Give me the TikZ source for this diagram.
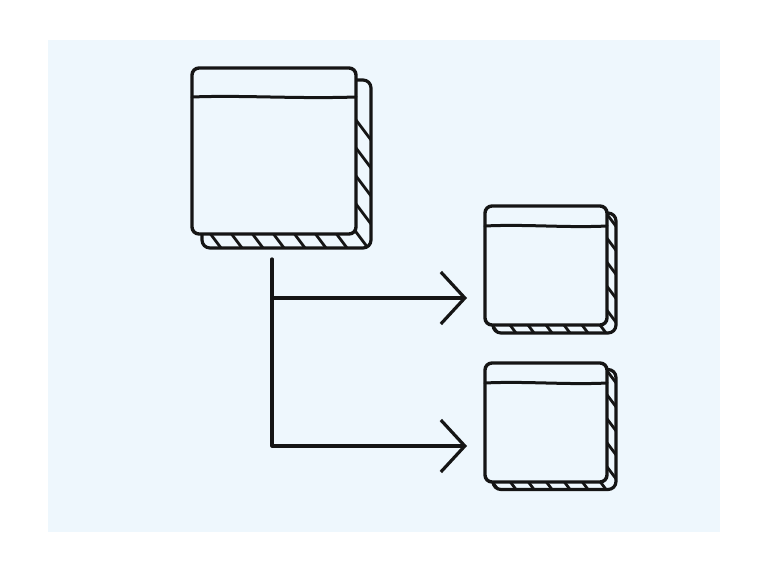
\documentclass[tikz,border=0pt]{standalone}
\usetikzlibrary{arrows.meta,calc}
\definecolor{bgblue}{HTML}{EEF7FD}
\definecolor{ink}{HTML}{151515}
\newcommand\hatchshadow[3]{%
  \begin{scope}
    \clip[rounded corners=8pt] (#1.south west) rectangle (#1.north east);
    \foreach \k in {-12,...,12}
      \draw[hatch] ($(#1.north west)+(\k*#2+#3,0)$) -- ++(300,-400);
  \end{scope}
  \draw[boxline] (#1.south west) rectangle (#1.north east);
}
\begin{document}
\begin{tikzpicture}[x=1pt,y=1pt,
  shadow/.style={fill=bgblue, rounded corners=8pt, inner sep=0pt, outer sep=0pt},
  front/.style={draw=ink, line width=3.4pt, fill=bgblue, rounded corners=7pt, inner sep=0pt, outer sep=0pt},
  boxline/.style={draw=ink, line width=3.2pt, rounded corners=8pt},
  hatch/.style={draw=ink, line width=2.8pt},
  header/.style={draw=ink, line width=3pt, line cap=round},
  conn/.style={draw=ink, line width=3.2pt, line cap=round, line join=round},
  tip/.style={-{Straight Barb[length=24pt, width=52pt]}}]
\useasboundingbox (0,0) rectangle (768,576);
\fill[white] (0,0) rectangle (768,576);
\fill[bgblue] (48,44) rectangle (720,536);

% big box
\node[shadow, minimum width=169pt, minimum height=168pt] (bigsh) at (286.5,412) {};
\hatchshadow{bigsh}{21}{-128}
\node[front, minimum width=164pt, minimum height=166pt] (big) at (274,425) {};
\draw[header] ([yshift=-29pt]big.north west) .. controls ([xshift=50pt,yshift=-27pt]big.north west) and ([xshift=-60pt,yshift=-31pt]big.north east) .. ([yshift=-29pt]big.north east);

% small box 1
\node[shadow, minimum width=123pt, minimum height=120pt] (s1sh) at (554.5,303) {};
\hatchshadow{s1sh}{18}{-85}
\node[front, minimum width=122pt, minimum height=119pt] (s1) at (546,310.5) {};
\draw[header] ([yshift=-20pt]s1.north west) .. controls ([xshift=40pt,yshift=-18pt]s1.north west) and ([xshift=-40pt,yshift=-22pt]s1.north east) .. ([yshift=-20pt]s1.north east);

% small box 2
\node[shadow, minimum width=123pt, minimum height=120pt] (s2sh) at (554.5,146.5) {};
\hatchshadow{s2sh}{18}{-85}
\node[front, minimum width=122pt, minimum height=119pt] (s2) at (546,153.5) {};
\draw[header] ([yshift=-20pt]s2.north west) .. controls ([xshift=40pt,yshift=-18pt]s2.north west) and ([xshift=-40pt,yshift=-22pt]s2.north east) .. ([yshift=-20pt]s2.north east);

% connectors
\coordinate (start) at (272,317);
\coordinate (t1) at (467,278);
\coordinate (t2) at (467,130);
\draw[conn, tip] (start) -- (start |- t2) -- (t2);
\draw[conn, tip] (start |- t1) -- (t1);
\end{tikzpicture}
\end{document}
